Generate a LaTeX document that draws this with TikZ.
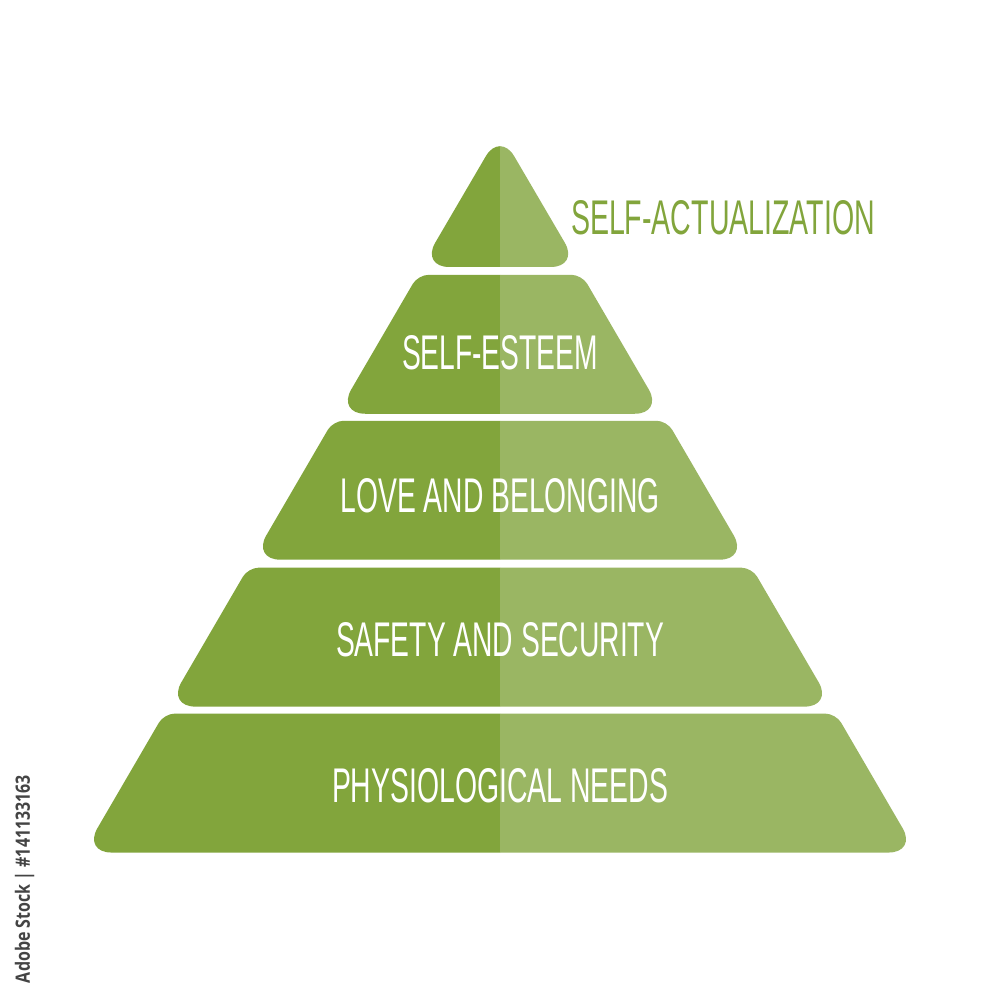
\documentclass[tikz,border=0pt]{standalone}
\usepackage{graphicx}
\usepackage{fontspec}
\setmainfont{Liberation Sans}
\newfontfamily\idfont{Open Sans}
\definecolor{gd}{HTML}{82A53C}
\definecolor{gl}{HTML}{9AB663}
\definecolor{stockgrey}{HTML}{444444}
\tikzset{
 lab/.style={text=white,inner sep=0pt},
 labg/.style={text=gd,inner sep=0pt}
}
% #1 top half width, #2 bottom half width, #3 top y, #4 bottom y (reference pixels)
\newcommand{\bandpath}[4]{%
 (5,{10-#4*0.01}) [rounded corners=8pt] -- ({5-#2*0.01},{10-#4*0.01}) [rounded corners=3pt]
 -- ({5-#1*0.01},{10-#3*0.01}) -- ({5+#1*0.01},{10-#3*0.01}) [rounded corners=8pt]
 -- ({5+#2*0.01},{10-#4*0.01}) -- (5,{10-#4*0.01})}
\newcommand{\tierband}[4]{%
 \begin{scope}\clip (0,0) rectangle (5,10);\fill[gd] \bandpath{#1}{#2}{#3}{#4};\end{scope}
 \begin{scope}\clip (5,0) rectangle (10,10);\fill[gl] \bandpath{#1}{#2}{#3}{#4};\end{scope}
}
\newcommand{\apexpath}{(5,7.33) [rounded corners=8pt] -- (4.21,7.33) -- (5,8.68) -- (5.79,7.33) -- (5,7.33)}
\newcommand{\fitlab}[3]{\resizebox{#1\dimexpr0.28453pt\relax}{#2\dimexpr0.28453pt\relax}{#3}}
\begin{document}
\begin{tikzpicture}[x=1cm,y=1cm]
\useasboundingbox (0,0) rectangle (10,10);
\fill[white] (0,0) rectangle (10,10);
\begin{scope}\clip (0,0) rectangle (5,10);\fill[gd] \apexpath;\end{scope}
\begin{scope}\clip (5,0) rectangle (10,10);\fill[gl] \apexpath;\end{scope}
\tierband{82}{163}{275}{414}
\tierband{167}{248}{421}{560}
\tierband{252}{333}{568}{707}
\tierband{336}{417}{714}{853}
\node[labg] (t0) at (7.23,7.82) {\fitlab{304}{34}{SELF-ACTUALIZATION}};
\node[lab] (t1) at (5,6.475) {\fitlab{196}{34}{SELF-ESTEEM}};
\node[lab] (t2) at (5,5.045) {\fitlab{319}{34}{LOVE AND BELONGING}};
\node[lab] (t3) at (5,3.605) {\fitlab{328}{34}{SAFETY AND SECURITY}};
\node[lab] (t4) at (5,2.145) {\fitlab{336}{34}{PHYSIOLOGICAL NEEDS}};
\node[rotate=90,anchor=base,text=stockgrey,inner sep=0pt] (id) at (.30,1.21) {\fitlab{208}{15}{\idfont\bfseries Adobe Stock | \#141133163}};
\end{tikzpicture}
\end{document}
